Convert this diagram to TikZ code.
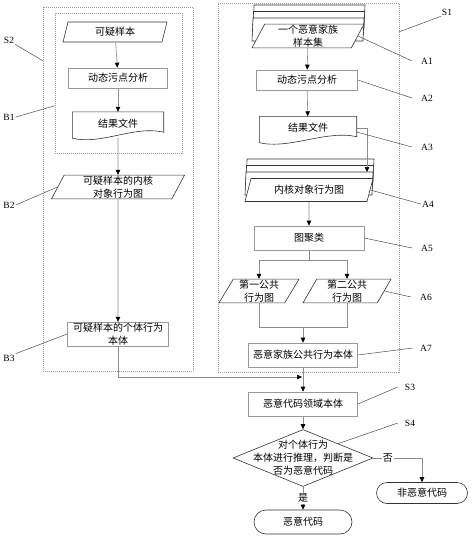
\documentclass[tikz,border=0pt]{standalone}
\usepackage{fontspec}
\setmainfont{Liberation Serif}
\newfontfamily\cjk{Noto Sans CJK SC}
\usepackage{tikz}
\usetikzlibrary{shapes,arrows.meta,positioning}
\tikzset{
  BoxFont/.style   = {font=\cjk\fontsize{10}{12.5}\selectfont, align=center, inner sep=1pt},
  ProcBox/.style   = {BoxFont, rectangle, draw=black!40, line width=0.6pt},
  DataBox/.style 2 args = {BoxFont, trapezium, trapezium left angle=#1,
                     trapezium right angle=#2, trapezium stretches body,
                     draw=black!80, fill=white, line width=0.6pt},
  DocText/.style   = {BoxFont, rectangle, minimum height=23},
  DocLine/.style   = {draw=black!80, line width=0.6pt},
  TermBox/.style   = {BoxFont, rounded rectangle, draw=black!80, line width=0.6pt},
  Decision/.style  = {diamond, draw=black!80, line width=0.6pt, inner sep=0pt},
  GroupBox/.style  = {rectangle, draw=black!40, dash pattern=on 1pt off 1pt, line width=0.5pt},
  FlowEdge/.style  = {draw=black!45, line width=0.6pt,
                     -{Triangle[length=5pt,width=4.5pt,color=black]}},
  FlowLine/.style  = {draw=black!45, line width=0.6pt},
  LeadLine/.style  = {draw=black!70, line width=0.5pt},
  TagText/.style   = {font=\fontsize{9.5}{11}\selectfont, inner sep=1pt}
}
\newcommand{\docnode}[5]{
  \node[DocText, minimum width=#4] (#1) at (#2,#3) {#5};
  \draw[DocLine] ([yshift=-3pt]#1.south west) -- (#1.north west) -- (#1.north east)
    -- ([yshift=3pt]#1.south east)
    .. controls ([xshift=-30pt,yshift=10pt]#1.south east)
    and ([xshift=30pt,yshift=-10pt]#1.south west) .. ([yshift=-3pt]#1.south west);
}
\newcommand{\stacknode}[5]{
  \node[DataBox={62}{118}, minimum width=#4, minimum height=23] (#1c) at (#2+1,#3-19.5) {};
  \node[DataBox={62}{118}, minimum width=#4, minimum height=23] (#1b) at (#2+0.5,#3-13) {};
  \node[DataBox={62}{118}, minimum width=#4, minimum height=23] (#1a) at (#2,#3-6.5) {};
  \node[DataBox={62}{118}, minimum width=#4, minimum height=23] (#1) at (#2,#3) {#5};
}

\begin{document}
\begin{tikzpicture}[x=1pt, y=-1pt]
  \useasboundingbox (0,0) rectangle (474,538);
  % groups
  \node[GroupBox, minimum width=150, minimum height=364] (gS2) at (118,189) {};
  \node[GroupBox, minimum width=127, minimum height=140] (gB1) at (118.5,83) {};
  \node[GroupBox, minimum width=181, minimum height=369] (gS1) at (308.5,187.5) {};
  % suspicious sample
  \node[DataBox={66}{114}, minimum width=104, minimum height=20] (ls) at (115,32) {可疑样本};
  \node[ProcBox, minimum width=99, minimum height=20] (lt) at (118,78) {动态污点分析};
  \docnode{lf}{118}{123.5}{91}{结果文件}
  \node[DataBox={62}{118}, minimum width=133, minimum height=23] (lg) at (118,187) {可疑样本的内核\\对象行为图};
  \node[ProcBox, minimum width=101, minimum height=23] (lb) at (118,334) {可疑样本的个体行为\\本体};
  % malicious family
  \stacknode{rs}{308}{36}{112}{一个恶意家族\\样本集}
  \node[ProcBox, minimum width=101, minimum height=20] (rt) at (307,80) {动态污点分析};
  \docnode{rf}{308}{128}{97}{结果文件}
  \stacknode{rg}{309}{190}{128}{内核对象行为图}
  \node[ProcBox, minimum width=110, minimum height=24] (rc) at (309,238) {图聚类};
  \node[DataBox={59}{121}, minimum width=80, minimum height=23] (rp1) at (259,291) {第一公共\\行为图};
  \node[DataBox={60}{120}, minimum width=88, minimum height=23] (rp2) at (347,291) {第二公共\\行为图};
  \node[ProcBox, minimum width=109, minimum height=24] (ra) at (303,355) {恶意家族公共行为本体};
  % decision
  \node[ProcBox, minimum width=109, minimum height=24] (rd) at (303,404) {恶意代码领域本体};
  \node[Decision, minimum width=140, minimum height=57,
        label={[BoxFont, name=rjt, font=\cjk\fontsize{10}{13}\selectfont]center:对个体行为\\本体进行推理，判断是\\否为恶意代码}] (rj) at (303,458) {};
  \node[TermBox, minimum width=93, minimum height=21] (rn) at (422,493) {非恶意代码};
  \node[TermBox, minimum width=100, minimum height=24] (rm) at (303,522) {恶意代码};
  % connectors
  \coordinate (rgin) at (367,172);
  \coordinate (jn) at (302,377);
  \coordinate (mg) at (303,327);
  \draw[FlowEdge] (ls) -- (lt);
  \draw[FlowEdge] (lt) -- (lf);
  \draw[FlowEdge] ([yshift=-3pt]lf.south) -- (lg);
  \draw[FlowEdge] (lg) -- (lb);
  \draw[FlowEdge] (lb.south) |- (jn);
  \draw[FlowEdge] (rs) -- (rt);
  \draw[FlowEdge] (rt) -- (rf);
  \draw[FlowEdge] (rf.east) -| (rgin);
  \draw[FlowEdge] (rg) -- (rc);
  \draw[FlowEdge] (rc.south) -- ++(0,10) -| (rp1.north);
  \draw[FlowEdge] (rc.south) -- ++(0,10) -| (rp2.north);
  \draw[FlowLine] (rp1.south) |- (mg);
  \draw[FlowLine] (rp2.south) |- (mg);
  \draw[FlowEdge] (mg) -- (ra);
  \draw[FlowEdge] (ra) -- (rd);
  \draw[FlowEdge] (rd) -- (rj);
  \draw[FlowEdge] (rj.east) -| node[BoxFont, fill=white, pos=0.15] (lno) {否} (rn.north);
  \draw[FlowEdge] (rj.south) -- node[BoxFont, fill=white] (lyes) {是} (rm.north);
  % tags
  \node[TagText] (tS2) at (9,40) {S2};
  \node[TagText] (tB1) at (9,117) {B1};
  \node[TagText] (tB2) at (9,205) {B2};
  \node[TagText] (tB3) at (9,358) {B3};
  \node[TagText] (tS1) at (447,12) {S1};
  \node[TagText] (tA1) at (427,61) {A1};
  \node[TagText] (tA2) at (427,98) {A2};
  \node[TagText] (tA3) at (427,147) {A3};
  \node[TagText] (tA4) at (428,204) {A4};
  \node[TagText] (tA5) at (427,248) {A5};
  \node[TagText] (tA6) at (426,297) {A6};
  \node[TagText] (tA7) at (426,348) {A7};
  \node[TagText] (tS3) at (410,387) {S3};
  \node[TagText] (tS4) at (410,423) {S4};
  \draw[LeadLine] (tS2.south east) -- ([yshift=-54pt]gS2.north west);
  \draw[LeadLine] (tB1.east) -- ([yshift=-93pt]gB1.north west);
  \draw[LeadLine] (tB2.east) -- (lg.west);
  \draw[LeadLine] (tB3.north east) -- (lb.west);
  \draw[LeadLine] (tS1.south west) -- ([yshift=-29pt]gS1.north east);
  \draw[LeadLine] ([xshift=-8pt]tA1.west) -- (rs.east);
  \draw[LeadLine] ([xshift=-8pt]tA2.west) -- (rt.east);
  \draw[LeadLine] ([xshift=-8pt]tA3.west) -- ([yshift=-4pt]rf.east);
  \draw[LeadLine] (tA4.west) -- (rg.east);
  \draw[LeadLine] ([xshift=-8pt]tA5.west) -- (rc.east);
  \draw[LeadLine] ([xshift=-8pt]tA6.west) -- (rp2.east);
  \draw[LeadLine] ([xshift=-6pt]tA7.west) -- (ra.east);
  \draw[LeadLine] ([xshift=-6pt]tS3.west) -- (rd.east);
  \draw[LeadLine] ([xshift=-6pt]tS4.west) -- (rj.north east);
\end{tikzpicture}
\end{document}
